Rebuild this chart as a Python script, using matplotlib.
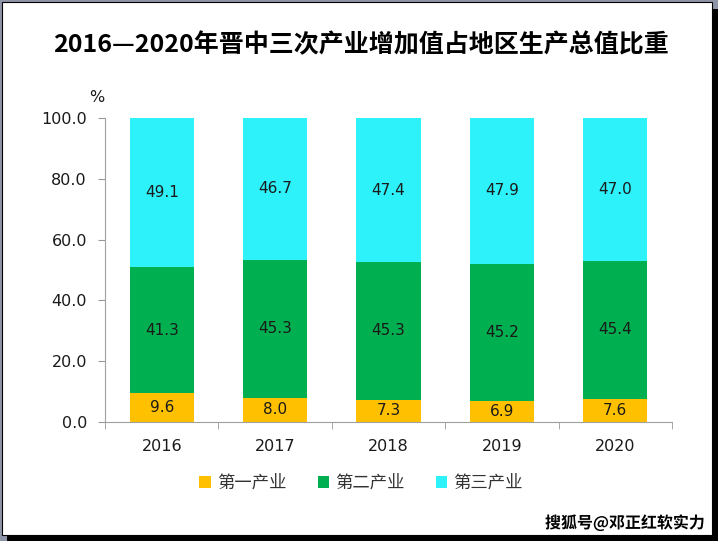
import matplotlib
matplotlib.use('Agg')
import matplotlib.pyplot as plt
import matplotlib.patches as mpatches
import matplotlib.patheffects as pe
import numpy as np

plt.rcParams['font.family'] = ['Noto Sans CJK SC', 'DejaVu Sans']

# data
years = ['2016', '2017', '2018', '2019', '2020']
primary = [9.6, 8.0, 7.3, 6.9, 7.6]
secondary = [41.3, 45.3, 45.3, 45.2, 45.4]
tertiary = [49.1, 46.7, 47.4, 47.9, 47.0]
series_names = ['第一产业', '第二产业', '第三产业']
yticks = [0, 20, 40, 60, 80, 100]

colors = ['#FFC000', '#00B050', '#2EF2FA']
W, H = 718, 541

fig = plt.figure(figsize=(W / 100, H / 100), dpi=100)
fig.patch.set_facecolor('#8E95A8')

# frame: black shadow + white panel
fig.patches.append(mpatches.Rectangle((7 / W, 0), 1 - 7 / W, 1 - 9 / H,
                                      transform=fig.transFigure, facecolor='black',
                                      edgecolor='none', zorder=-2))
fig.patches.append(mpatches.Rectangle((2 / W, 6 / H), 710 / W, 533 / H,
                                      transform=fig.transFigure, facecolor='white',
                                      edgecolor='black', linewidth=0.8, zorder=-1))

ax = fig.add_axes([105 / W, 1 - 422 / H, 567 / W, 304 / H])
ax.set_facecolor('none')

x = np.arange(len(years))
bw = 0.565
b1 = ax.bar(x, primary, bw, color=colors[0], label=series_names[0])
b2 = ax.bar(x, secondary, bw, bottom=primary, color=colors[1], label=series_names[1])
bottom3 = [p + s for p, s in zip(primary, secondary)]
b3 = ax.bar(x, tertiary, bw, bottom=bottom3, color=colors[2], label=series_names[2])

for bars, vals in [(b1, primary), (b2, secondary), (b3, tertiary)]:
    ax.bar_label(bars, labels=[f'{v:.1f}' for v in vals], label_type='center',
                 fontsize=11, color='#1a1a1a', family='DejaVu Sans')

ax.set_xlim(-0.5, len(years) - 0.5)
ax.set_ylim(0, 100)
ax.set_yticks(yticks)
ax.set_yticklabels([f'{v:.1f}' for v in yticks], family='DejaVu Sans',
                   fontsize=11.5, color='#1a1a1a')
ax.set_xticks(x)
ax.set_xticklabels(years, family='DejaVu Sans', fontsize=11.5, color='#1a1a1a')
ax.set_xticks(np.arange(-0.5, len(years)), minor=True)
ax.tick_params(axis='x', which='major', length=0, pad=12)
ax.tick_params(axis='x', which='minor', length=5, color='#999999', direction='out')
ax.tick_params(axis='y', length=5, color='#999999', pad=8)

for s in ['top', 'right']:
    ax.spines[s].set_visible(False)
ax.spines['left'].set_color('#a0a0a0')
ax.spines['bottom'].set_color('#a0a0a0')

fig.text(97 / W, 1 - 97 / H, '%', ha='center', va='center', fontsize=11.5,
         family='DejaVu Sans', color='#1a1a1a')

fig.text(361 / W, 1 - 45 / H, '2016—2020年晋中三次产业增加值占地区生产总值比重',
         ha='center', va='center', fontsize=18, fontweight='bold', color='black')

fig.legend(handles=[b1, b2, b3], labels=series_names, loc='center',
           bbox_to_anchor=(361 / W, 1 - 483 / H), ncol=3, frameon=False,
           fontsize=12.5, handlelength=0.65, handleheight=0.65, columnspacing=1.8,
           handletextpad=0.35, labelcolor='#333333')

fig.text(705 / W, 1 - 523 / H, '搜狐号@邓正红软实力', ha='right', va='center',
         fontsize=11.5, fontweight='bold', color='black',
         path_effects=[pe.withStroke(linewidth=2, foreground='white')])

fig.savefig('out.png', dpi=100, facecolor=fig.get_facecolor())
